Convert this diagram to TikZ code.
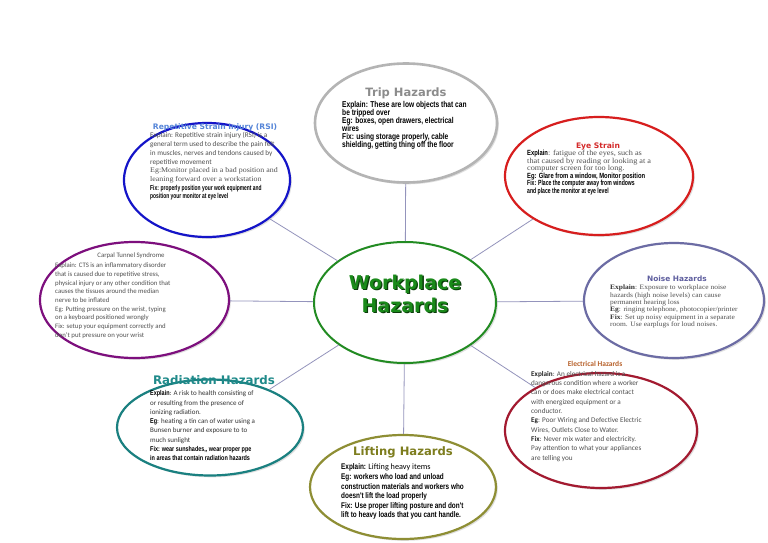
\documentclass[tikz,border=0pt]{standalone}
\usepackage{fontspec}
\setmainfont{Carlito}
\newfontfamily\calib{Carlito}
\newfontfamily\camb{Liberation Serif}[FakeStretch=1.1]
\newfontfamily\narr{Liberation Sans}[FakeStretch=0.78]
\newfontfamily\narrc{Liberation Sans}[FakeStretch=0.68]
\newfontfamily\verd{DejaVu Sans}
\usetikzlibrary{shapes.geometric,shadows}
\definecolor{linkc}{HTML}{9494BC}
\definecolor{cgreen}{HTML}{228B22}
\definecolor{ctitle}{HTML}{1A8A1A}
\definecolor{cshadow}{HTML}{0A3D0A}
\definecolor{tripb}{HTML}{B4B4B4}
\definecolor{tript}{HTML}{8C8C8C}
\definecolor{eyeb}{HTML}{D71E1E}
\definecolor{eyet}{HTML}{D42A2A}
\definecolor{rsib}{HTML}{1414C8}
\definecolor{rsit}{HTML}{5585D8}
\definecolor{carpb}{HTML}{7D0F7D}
\definecolor{noiseb}{HTML}{6C6CA4}
\definecolor{noiset}{HTML}{5F5F9F}
\definecolor{elecb}{HTML}{A31A30}
\definecolor{elect}{HTML}{B8622C}
\definecolor{radb}{HTML}{1A8080}
\definecolor{radt}{HTML}{1F8A8A}
\definecolor{liftb}{HTML}{8E8E34}
\definecolor{liftt}{HTML}{7D7D1E}
\definecolor{bodyg}{HTML}{505050}
\newcommand\nbf[1]{{\narr\bfseries\color{black}#1}}
\newcommand\ncf[1]{{\narrc\bfseries\color{black}#1}}
\begin{document}
\begin{tikzpicture}[x=1pt,y=-1pt,
  bub/.style={ellipse, draw, line width=2.2pt, fill=white, inner sep=0pt,
    drop shadow={opacity=0.25, shadow xshift=1.8pt, shadow yshift=-1.8pt}},
  link/.style={draw=linkc, line width=0.8pt},
  tx/.style={align=left, anchor=north west, inner sep=0pt, text=bodyg},
  ttl/.style={anchor=base, inner sep=0pt, font=\verd\bfseries}]
\useasboundingbox (0,0) rectangle (768,543);
\fill[white] (0,0) rectangle (768,543);

% ellipses
\node[bub, draw=cgreen, line width=2pt, minimum width=182pt, minimum height=121pt] (center) at (405,302.5) {};
\node[bub, draw=tripb, line width=2.6pt, minimum width=182pt, minimum height=119pt] (trip) at (406,123) {};
\node[bub, draw=eyeb, minimum width=188pt, minimum height=118pt] (eye) at (599,176) {};
\node[bub, draw=rsib, minimum width=166pt, minimum height=114pt] (rsi) at (207,180) {};
\node[bub, draw=carpb, minimum width=189pt, minimum height=116pt] (carpal) at (134.5,300) {};
\node[bub, draw=noiseb, minimum width=180pt, minimum height=115pt] (noise) at (674,300.5) {};
\node[bub, draw=elecb, minimum width=192pt, minimum height=115pt] (elec) at (601,430.5) {};
\node[bub, draw=radb, minimum width=186pt, minimum height=96pt] (rad) at (210,427.5) {};
\node[bub, draw=liftb, minimum width=186pt, minimum height=104pt] (lift) at (403,487) {};

% connectors
\draw[link] (center) -- (trip);
\draw[link] (center) -- (eye);
\draw[link] (center) -- (rsi);
\draw[link] (center) -- (carpal);
\draw[link] (center) -- (noise);
\draw[link] (center) -- (elec);
\draw[link] (center) -- (rad);
\draw[link] (center) -- (lift);

% centre title
\node[align=center, anchor=north, inner sep=0pt, text=cshadow,
  font=\verd\bfseries\fontsize{19}{23}\selectfont] (ctshadow) at (406.3,276.3) {Workplace\\Hazards};
\node[align=center, anchor=north, inner sep=0pt, text=ctitle,
  font=\verd\bfseries\fontsize{19}{23}\selectfont] (ctitle) at (405,275) {Workplace\\Hazards};

% Trip
\node[ttl, text=tript, font=\verd\bfseries\fontsize{11.5}{13}\selectfont] (tript) at (406,96) {Trip Hazards};
\node[tx, text=black, font=\narr\bfseries\fontsize{8.5}{8}\selectfont] (tripx) at (342,101) {%
Explain: These are low objects that can\\
be tripped over\\
Eg: boxes, open drawers, electrical\\
wires\\
Fix: using storage properly, cable\\
shielding, getting thing  off the floor};

% Eye strain
\node[ttl, text=eyet, font=\verd\bfseries\fontsize{7.6}{9}\selectfont] (eyet) at (598,148) {Eye Strain};
\node[tx, font=\camb\fontsize{7.5}{7.5}\selectfont] (eyex) at (527,150) {%
\nbf{Explain}: fatigue of the eyes, such as\\
that caused by reading or looking at a\\
computer screen for too long.\\
\nbf{Eg: Glare from a window, Monitor position}\\
\ncf{Fix: Place the computer away from windows}\\
\ncf{and place the monitor at eye level}};

% RSI
\node[ttl, text=rsit, font=\verd\bfseries\fontsize{7.6}{9}\selectfont] (rsit) at (215,129) {Repetitive Strain Injury (RSI)};
\node[tx, font=\calib\fontsize{7.2}{8.7}\selectfont] (rsix) at (150,132.5) {%
Explain: Repetitive strain injury (RSI) is a\\
general term used to describe the pain felt\\
in muscles, nerves and tendons caused by\\
repetitive movement\\
{\camb Eg:Monitor placed in a bad position and}\\
{\camb leaning forward over a workstation}\\
\ncf{Fix: properly position your work equipment and}\\
\ncf{position your monitor at eye level}};

% Carpal tunnel
\node[anchor=base, inner sep=0pt, text=bodyg, font=\calib\fontsize{6.8}{8.7}\selectfont] (carpt) at (131,257.5) {Carpal Tunnel Syndrome};
\node[tx, font=\calib\fontsize{6.8}{8.7}\selectfont] (carpx) at (55,262.8) {%
Explain: CTS is an inflammatory disorder\\
that is caused due to repetitive stress,\\
physical injury or any other condition that\\
causes the tissues around the median\\
nerve to be inflated\\
Eg: Putting pressure on the wrist, typing\\
on a keyboard positioned wrongly\\
Fix: setup your equipment correctly and\\
don’t put pressure on your wrist};

% Noise
\node[ttl, text=noiset, font=\verd\bfseries\fontsize{7.4}{9}\selectfont] (noiset) at (677,281) {Noise Hazards};
\node[tx, font=\camb\fontsize{6.8}{7.4}\selectfont] (noisex) at (610,284.8) {%
{\bfseries\color{black!80}Explain}: Exposure to workplace noise\\
hazards (high noise levels) can cause\\
permanent hearing loss\\
{\bfseries\color{black!80}Eg}: ringing telephone, photocopier/printer\\
{\bfseries\color{black!80}Fix}: Set up noisy equipment in a separate\\
room. Use earplugs for loud noises.};

% Electrical
\node[anchor=base, inner sep=0pt, text=elect, font=\calib\bfseries\fontsize{7.5}{9}\selectfont] (elect) at (595,366) {Electrical Hazards};
\node[tx, font=\calib\fontsize{7.2}{9.33}\selectfont] (elecx) at (531,371) {%
{\bfseries\color{black!85}Explain}: An electrical hazard is a\\
dangerous condition where a worker\\
can or does make electrical contact\\
with energized equipment or a\\
conductor.\\
{\bfseries\color{black!85}Eg}: Poor Wiring and Defective Electric\\
Wires, Outlets Close to Water.\\
{\bfseries\color{black!85}Fix}: Never mix water and electricity.\\
Pay attention to what your appliances\\
are telling you};

% Radiation
\node[ttl, text=radt, font=\verd\bfseries\fontsize{11.8}{13}\selectfont] (radt) at (214,384) {Radiation Hazards};
\node[tx, text=black!80, font=\calib\fontsize{7}{9.3}\selectfont] (radx) at (150,390.5) {%
\nbf{Explain}: A risk to health consisting of\\
or resulting from the presence of\\
ionizing radiation.\\
\nbf{Eg}: heating a tin can of water using a\\
Bunsen burner and exposure to to\\
much sunlight\\
\nbf{Fix: wear sunshades,, wear proper ppe}\\
\nbf{in areas that contain radiation hazards}};

% Lifting
\node[ttl, text=liftt, font=\verd\bfseries\fontsize{11.6}{13}\selectfont] (liftt) at (403,455) {Lifting Hazards};
\node[tx, text=black, font=\narr\bfseries\fontsize{8.2}{9.6}\selectfont] (liftx) at (341,463.7) {%
Explain: {\calib\mdseries Lifting heavy items}\\
Eg: workers who load and unload\\
construction materials and workers who\\
doesn't lift the load properly\\
Fix: Use proper lifting posture and don't\\
lift to heavy loads that you cant  handle.};
\end{tikzpicture}
\end{document}
